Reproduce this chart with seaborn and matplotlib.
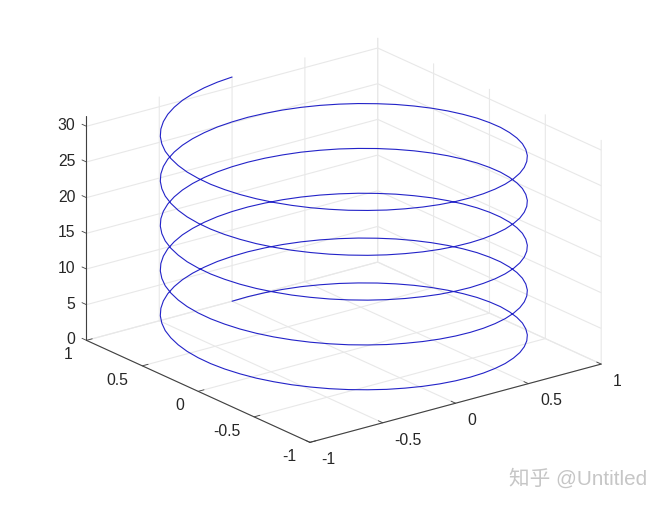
import matplotlib
matplotlib.use('Agg')
import matplotlib.pyplot as plt
import seaborn as sns

# one turn of the helix, read every 6 degrees round the circle
x_turn = [0, .105, .208, .309, .407, .5, .588, .669, .743, .809, .866, .914, .951, .978, .995,
          1, .995, .978, .951, .914, .866, .809, .743, .669, .588, .5, .407, .309, .208, .105,
          0, -.105, -.208, -.309, -.407, -.5, -.588, -.669, -.743, -.809, -.866, -.914, -.951, -.978, -.995,
          -1, -.995, -.978, -.951, -.914, -.866, -.809, -.743, -.669, -.588, -.5, -.407, -.309, -.208, -.105]
y_turn = [1, .995, .978, .951, .914, .866, .809, .743, .669, .588, .5, .407, .309, .208, .105,
          0, -.105, -.208, -.309, -.407, -.5, -.588, -.669, -.743, -.809, -.866, -.914, -.951, -.978, -.995,
          -1, -.995, -.978, -.951, -.914, -.866, -.809, -.743, -.669, -.588, -.5, -.407, -.309, -.208, -.105,
          0, .105, .208, .309, .407, .5, .588, .669, .743, .809, .866, .914, .951, .978, .995]
x_vals = x_turn * 5 + [0]
y_vals = y_turn * 5 + [1]
z_vals = [0, .10, .21, .31, .42, .52, .63, .73, .84, .94,
          1.05, 1.15, 1.26, 1.36, 1.47, 1.57, 1.68, 1.78, 1.88, 1.99,
          2.09, 2.20, 2.30, 2.41, 2.51, 2.62, 2.72, 2.83, 2.93, 3.04,
          3.14, 3.25, 3.35, 3.46, 3.56, 3.67, 3.77, 3.87, 3.98, 4.08,
          4.19, 4.29, 4.40, 4.50, 4.61, 4.71, 4.82, 4.92, 5.03, 5.13,
          5.24, 5.34, 5.45, 5.55, 5.65, 5.76, 5.86, 5.97, 6.07, 6.18,
          6.28, 6.39, 6.49, 6.60, 6.70, 6.81, 6.91, 7.02, 7.12, 7.23,
          7.33, 7.43, 7.54, 7.64, 7.75, 7.85, 7.96, 8.06, 8.17, 8.27,
          8.38, 8.48, 8.59, 8.69, 8.80, 8.90, 9.01, 9.11, 9.21, 9.32,
          9.42, 9.53, 9.63, 9.74, 9.84, 9.95, 10.05, 10.16, 10.26, 10.37,
          10.47, 10.58, 10.68, 10.79, 10.89, 10.99, 11.10, 11.20, 11.31, 11.41,
          11.52, 11.62, 11.73, 11.83, 11.94, 12.04, 12.15, 12.25, 12.36, 12.46,
          12.57, 12.67, 12.77, 12.88, 12.98, 13.09, 13.19, 13.30, 13.40, 13.51,
          13.61, 13.72, 13.82, 13.93, 14.03, 14.14, 14.24, 14.35, 14.45, 14.56,
          14.66, 14.76, 14.87, 14.97, 15.08, 15.18, 15.29, 15.39, 15.50, 15.60,
          15.71, 15.81, 15.92, 16.02, 16.13, 16.23, 16.34, 16.44, 16.55, 16.65,
          16.76, 16.86, 16.96, 17.07, 17.17, 17.28, 17.38, 17.49, 17.59, 17.70,
          17.80, 17.91, 18.01, 18.12, 18.22, 18.33, 18.43, 18.54, 18.64, 18.74,
          18.85, 18.95, 19.06, 19.16, 19.27, 19.37, 19.48, 19.58, 19.69, 19.79,
          19.90, 20.00, 20.11, 20.21, 20.32, 20.42, 20.53, 20.63, 20.73, 20.84,
          20.94, 21.05, 21.15, 21.26, 21.36, 21.47, 21.57, 21.68, 21.78, 21.89,
          21.99, 22.10, 22.20, 22.31, 22.41, 22.51, 22.62, 22.72, 22.83, 22.93,
          23.04, 23.14, 23.25, 23.35, 23.46, 23.56, 23.67, 23.77, 23.88, 23.98,
          24.09, 24.19, 24.29, 24.40, 24.50, 24.61, 24.71, 24.82, 24.92, 25.03,
          25.13, 25.24, 25.34, 25.45, 25.55, 25.66, 25.76, 25.87, 25.97, 26.08,
          26.18, 26.28, 26.39, 26.49, 26.60, 26.70, 26.81, 26.91, 27.02, 27.12,
          27.23, 27.33, 27.44, 27.54, 27.65, 27.75, 27.86, 27.96, 28.06, 28.17,
          28.27, 28.38, 28.48, 28.59, 28.69, 28.80, 28.90, 29.01, 29.11, 29.22,
          29.32, 29.43, 29.53, 29.64, 29.74, 29.85, 29.95, 30.05, 30.16, 30.26,
          30.37, 30.47, 30.58, 30.68, 30.79, 30.89, 31.00, 31.10, 31.21, 31.31,
          31.42]
xy_ticks = [-1, -0.5, 0, 0.5, 1]
xy_labels = ['-1', '-0.5', '0', '0.5', '1']
z_ticks = [0, 5, 10, 15, 20, 25, 30]

sns.set_theme(style='white')
plt.rcParams['font.family'] = ['Liberation Sans', 'Noto Sans CJK SC', 'DejaVu Sans']
plt.rcParams['path.simplify'] = False

grid_color = '#e8e8e8'
axis_color = '#404040'

fig = plt.figure(figsize=(6.66, 5.05), dpi=100)
ax = fig.add_axes([0.006, 0.011, 1, 1], projection='3d', proj_type='ortho')
ax.view_init(elev=20.5, azim=-127.5)
ax.set_box_aspect((1, 1, 0.652), zoom=1.099)
ax.patch.set_alpha(0)

line, = ax.plot(x_vals, y_vals, z_vals, color='#2323c8', linewidth=0.8)
line.set_snap(False)

ax.set_xlim(-1, 1)
ax.set_ylim(-1, 1)
ax.set_zlim(0, 31.42)
ax.set_xticks(xy_ticks, xy_labels)
ax.set_yticks(xy_ticks, xy_labels)
ax.set_zticks(z_ticks)

for axis in (ax.xaxis, ax.yaxis, ax.zaxis):
    axis.set_pane_color((1, 1, 1, 0))
    axis.pane.set_edgecolor('none')
    axis.line.set_color(axis_color)
    axis.line.set_linewidth(0.8)
    axis._axinfo['grid'].update(color=grid_color, linewidth=0.8)
    axis._axinfo['tick'].update(inward_factor=0, outward_factor=0.25, color=axis_color,
                                linewidth={True: 0.6, False: 0.5})
# z ticks lean along the y direction in the reference
ax.zaxis._get_tickdir = lambda position: 1
ax.tick_params(labelsize=11.3, labelcolor='#262626', colors='#404040', pad=2)
ax.yaxis.set_tick_params(pad=1)
ax.zaxis.set_tick_params(pad=-4)
plt.setp(ax.get_xticklabels(), ha='left', va='center')
plt.setp(ax.get_yticklabels(), ha='right', va='center')
plt.setp(ax.get_zticklabels(), ha='right', va='center')

fig.text(0.765, 0.04, '知乎 @Untitled', color='#c6c6c6', fontsize=14.9)
fig.savefig('out.png', dpi=100)
